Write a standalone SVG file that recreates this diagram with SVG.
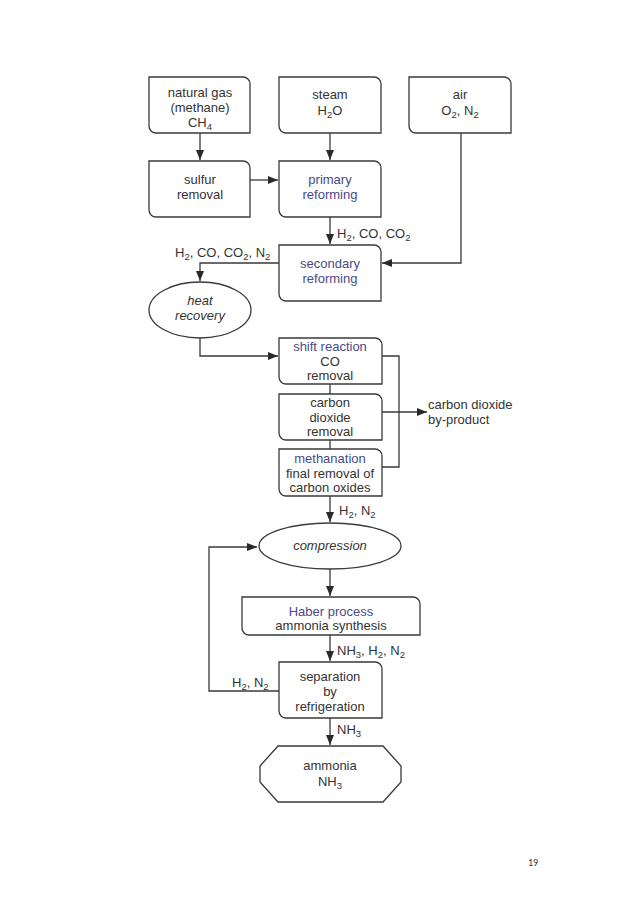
<svg xmlns="http://www.w3.org/2000/svg" width="638" height="902" viewBox="0 0 638 902">
<defs>
<marker id="ah" viewBox="0 0 10 8" refX="10" refY="4" markerWidth="10" markerHeight="8" markerUnits="userSpaceOnUse" orient="auto">
<path d="M0,0 L10,4 L0,8 Z" fill="#2a2a2a"/>
</marker>
</defs>
<style>
.box{fill:#fff;stroke:#3a3a3a;stroke-width:1.3}
.ln{fill:none;stroke:#3a3a3a;stroke-width:1.3}
text{font-family:"Liberation Sans",Arial,sans-serif;font-size:13px;fill:#333;text-anchor:middle}
.b{fill:#4a4a88}
.i{font-style:italic}
.l{text-anchor:start}
.s{font-size:9.5px}
</style>
<rect width="638" height="902" fill="#fff"/>
<g id="connectors">
<path class="ln" d="M200,133 V160" marker-end="url(#ah)"/>
<path class="ln" d="M330,133 V160" marker-end="url(#ah)"/>
<path class="ln" d="M250,180 H278" marker-end="url(#ah)"/>
<path class="ln" d="M330,217 V244" marker-end="url(#ah)"/>
<path class="ln" d="M461,133 V263 H382" marker-end="url(#ah)"/>
<path class="ln" d="M279,263 H200 V281" marker-end="url(#ah)"/>
<path class="ln" d="M200,338 V356 H278" marker-end="url(#ah)"/>
<path class="ln" d="M330,384 V394 M330,440 V449"/>
<path class="ln" d="M382,356 H399 V467 H382"/>
<path class="ln" d="M382,412 H427" marker-end="url(#ah)"/>
<path class="ln" d="M330,496 V522" marker-end="url(#ah)"/>
<path class="ln" d="M330,569 V596" marker-end="url(#ah)"/>
<path class="ln" d="M330,635 V661" marker-end="url(#ah)"/>
<path class="ln" d="M279,691 H209 V547 H257" marker-end="url(#ah)"/>
<path class="ln" d="M330,718 V745" marker-end="url(#ah)"/>
<text class="l" x="337" y="238">H<tspan class="s" dy="3">2</tspan><tspan dy="-3">, CO, CO</tspan><tspan class="s" dy="3">2</tspan></text>
<text class="l" x="175" y="257">H<tspan class="s" dy="3">2</tspan><tspan dy="-3">, CO, CO</tspan><tspan class="s" dy="3">2</tspan><tspan dy="-3">, N</tspan><tspan class="s" dy="3">2</tspan></text>
<text class="l" x="428" y="409">carbon dioxide</text>
<text class="l" x="428" y="424">by-product</text>
<text class="l" x="339" y="515">H<tspan class="s" dy="3">2</tspan><tspan dy="-3">, N</tspan><tspan class="s" dy="3">2</tspan></text>
<text class="l" x="337" y="655">NH<tspan class="s" dy="3">3</tspan><tspan dy="-3">, H</tspan><tspan class="s" dy="3">2</tspan><tspan dy="-3">, N</tspan><tspan class="s" dy="3">2</tspan></text>
<text class="l" x="232" y="687">H<tspan class="s" dy="3">2</tspan><tspan dy="-3">, N</tspan><tspan class="s" dy="3">2</tspan></text>
<text class="l" x="337" y="734">NH<tspan class="s" dy="3">3</tspan></text>
</g>
<g id="natural-gas">
<path class="box" d="M149,77 H243 A7,7 0 0 1 250,84 V133 H156 A7,7 0 0 1 149,126 Z"/>
<text x="200" y="97">natural gas</text>
<text x="200" y="112">(methane)</text>
<text x="200" y="127">CH<tspan class="s" dy="3">4</tspan></text>
</g>
<g id="steam">
<path class="box" d="M279,77 H374 A7,7 0 0 1 381,84 V133 H286 A7,7 0 0 1 279,126 Z"/>
<text x="330" y="99">steam</text>
<text x="330" y="115">H<tspan class="s" dy="3">2</tspan><tspan dy="-3">O</tspan></text>
</g>
<g id="air">
<path class="box" d="M409,77 H504 A7,7 0 0 1 511,84 V133 H416 A7,7 0 0 1 409,126 Z"/>
<text x="460" y="99">air</text>
<text x="460" y="115">O<tspan class="s" dy="3">2</tspan><tspan dy="-3">, N</tspan><tspan class="s" dy="3">2</tspan></text>
</g>
<g id="sulfur-removal">
<path class="box" d="M149,161 H243 A7,7 0 0 1 250,168 V217 H156 A7,7 0 0 1 149,210 Z"/>
<text x="200" y="184">sulfur</text>
<text x="200" y="199">removal</text>
</g>
<g id="primary-reforming">
<path class="box" d="M279,161 H374 A7,7 0 0 1 381,168 V217 H286 A7,7 0 0 1 279,210 Z"/>
<text class="b" x="330" y="184">primary</text>
<text class="b" x="330" y="199">reforming</text>
</g>
<g id="secondary-reforming">
<path class="box" d="M279,245 H374 A7,7 0 0 1 381,252 V301 H286 A7,7 0 0 1 279,294 Z"/>
<text class="b" x="330" y="268">secondary</text>
<text class="b" x="330" y="283">reforming</text>
</g>
<g id="heat-recovery">
<ellipse class="box" cx="200" cy="310" rx="51" ry="28"/>
<text class="i" x="200" y="305">heat</text>
<text class="i" x="200" y="320">recovery</text>
</g>
<g id="shift-reaction">
<path class="box" d="M279,338 H375 A7,7 0 0 1 382,345 V384 H286 A7,7 0 0 1 279,377 Z"/>
<text class="b" x="330" y="351">shift reaction</text>
<text x="330" y="366">CO</text>
<text x="330" y="380">removal</text>
</g>
<g id="carbon-dioxide-removal">
<path class="box" d="M279,394 H375 A7,7 0 0 1 382,401 V440 H286 A7,7 0 0 1 279,433 Z"/>
<text x="330" y="407">carbon</text>
<text x="330" y="422">dioxide</text>
<text x="330" y="436">removal</text>
</g>
<g id="methanation">
<path class="box" d="M279,449 H375 A7,7 0 0 1 382,456 V496 H286 A7,7 0 0 1 279,489 Z"/>
<text class="b" x="330" y="463">methanation</text>
<text x="330" y="478">final removal of</text>
<text x="330" y="492">carbon oxides</text>
</g>
<g id="compression">
<ellipse class="box" cx="330" cy="546" rx="71" ry="23"/>
<text class="i" x="330" y="550">compression</text>
</g>
<g id="haber-process">
<path class="box" d="M242,597 H413 A7,7 0 0 1 420,604 V635 H249 A7,7 0 0 1 242,628 Z"/>
<text class="b" x="331" y="616">Haber process</text>
<text x="331" y="630">ammonia synthesis</text>
</g>
<g id="separation">
<path class="box" d="M279,662 H375 A7,7 0 0 1 382,669 V718 H286 A7,7 0 0 1 279,711 Z"/>
<text x="330" y="681">separation</text>
<text x="330" y="696">by</text>
<text x="330" y="711">refrigeration</text>
</g>
<g id="ammonia">
<path class="box" d="M278,746 H383 L401,766 V782 L383,802 H278 L260,782 V766 Z"/>
<text x="330" y="770">ammonia</text>
<text x="330" y="786">NH<tspan class="s" dy="3">3</tspan></text>
</g>
<text x="533" y="866" style="font-size:10px;font-family:Carlito,'Liberation Sans',sans-serif">19</text>
</svg>
